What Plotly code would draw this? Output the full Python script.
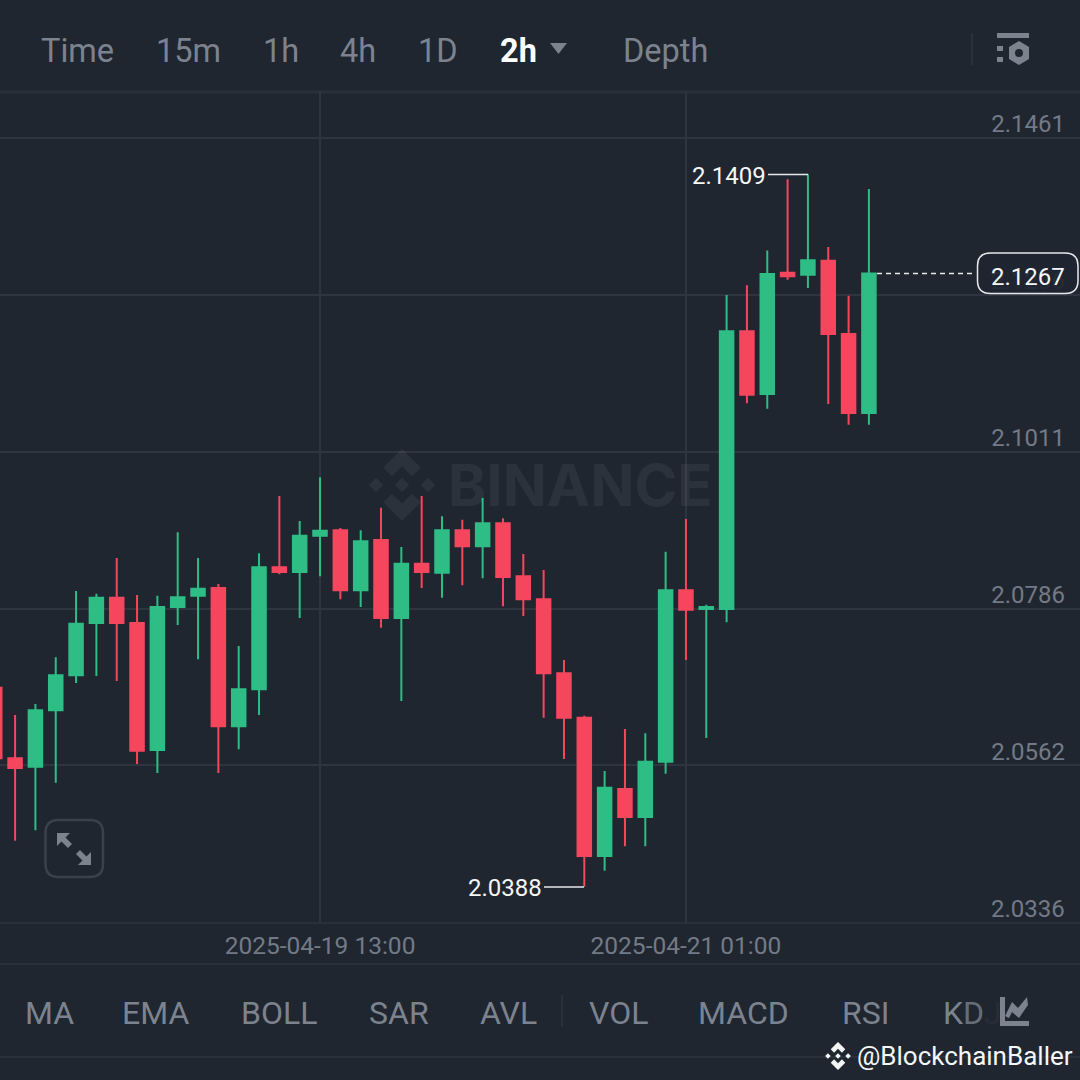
import pandas as pd
import plotly.graph_objects as go

# candle data (2h candles)
times = pd.date_range("2025-04-18 05:00", periods=44, freq="2h")
opens = [2.0673, 2.0572, 2.0560, 2.0641, 2.0691, 2.0766, 2.0802, 2.0766, 2.0584, 2.0789, 2.0805,
         2.0816, 2.0618, 2.0671, 2.0846, 2.0839, 2.0891, 2.0899, 2.0813, 2.0885, 2.0773, 2.0851,
         2.0838, 2.0899, 2.0876, 2.0909, 2.0833, 2.0800, 2.0694, 2.0630, 2.0432, 2.0528, 2.0488,
         2.0567, 2.0813, 2.0786, 2.0786, 2.1184, 2.1094, 2.1268, 2.1265, 2.1285, 2.1180, 2.1067]
highs = [2.0680, 2.0634, 2.0650, 2.0717, 2.0812, 2.0808, 2.0859, 2.0806, 2.0805, 2.0896, 2.0859,
         2.0822, 2.0733, 2.0866, 2.0948, 2.0912, 2.0975, 2.0902, 2.0899, 2.0931, 2.0875, 2.0948,
         2.0919, 2.0914, 2.0945, 2.0916, 2.0865, 2.0842, 2.0713, 2.0633, 2.0554, 2.0614, 2.0608,
         2.0868, 2.0915, 2.0792, 2.1236, 2.1250, 2.1300, 2.1402, 2.1409, 2.1305, 2.1235, 2.1388]
lows = [2.0560, 2.0454, 2.0469, 2.0537, 2.0680, 2.0690, 2.0683, 2.0564, 2.0551, 2.0763, 2.0714,
        2.0551, 2.0585, 2.0634, 2.0836, 2.0773, 2.0833, 2.0800, 2.0789, 2.0759, 2.0654, 2.0816,
        2.0802, 2.0820, 2.0830, 2.0790, 2.0776, 2.0630, 2.0571, 2.0388, 2.0411, 2.0446, 2.0446,
        2.0550, 2.0713, 2.0601, 2.0767, 2.1081, 2.1073, 2.1258, 2.1246, 2.1080, 2.1050, 2.1050]
closes = [2.0572, 2.0558, 2.0641, 2.0691, 2.0765, 2.0802, 2.0766, 2.0583, 2.0789, 2.0803, 2.0815,
          2.0618, 2.0671, 2.0846, 2.0839, 2.0891, 2.0898, 2.0813, 2.0883, 2.0773, 2.0851, 2.0839,
          2.0899, 2.0876, 2.0909, 2.0832, 2.0800, 2.0694, 2.0630, 2.0432, 2.0530, 2.0488, 2.0567,
          2.0813, 2.0785, 2.0789, 2.1184, 2.1093, 2.1266, 2.1263, 2.1286, 2.1180, 2.1067, 2.1267]

price_ticks = [2.1461, 2.1236, 2.1011, 2.0786, 2.0562, 2.0336]
price_labels = ["2.1461", "2.1236", "2.1011", "2.0786", "2.0562", "2.0336"]
time_ticks = ["2025-04-19 13:00", "2025-04-21 01:00"]
last_price = 2.1267

top_tabs = ["Time", "15m", "1h", "4h", "1D", "2h", "Depth"]
top_x = [78, 188, 281, 358, 438, 518, 665]
bottom_tabs = ["MA", "EMA", "BOLL", "SAR", "AVL", "VOL", "MACD", "RSI"]
bottom_x = [49, 156, 279, 399, 508, 618, 743, 865]

BG = "#1f2630"
GRID = "#2e3440"
MUTED = "#7c838f"
AXIS_TEXT = "#737a85"
GREEN = "#2ebd85"
RED = "#f6465d"
FONT = "Roboto"


def px(x):
    return x / 1080


def py(y):
    return 1 - y / 1080


def poly(points):
    return "M " + " L ".join(f"{px(x):.5f},{py(y):.5f}" for x, y in points) + " Z"


def round_rect(x0, y0, x1, y1, r):
    return (f"M {px(x0 + r):.5f},{py(y0):.5f} L {px(x1 - r):.5f},{py(y0):.5f} "
            f"Q {px(x1):.5f},{py(y0):.5f} {px(x1):.5f},{py(y0 + r):.5f} "
            f"L {px(x1):.5f},{py(y1 - r):.5f} Q {px(x1):.5f},{py(y1):.5f} {px(x1 - r):.5f},{py(y1):.5f} "
            f"L {px(x0 + r):.5f},{py(y1):.5f} Q {px(x0):.5f},{py(y1):.5f} {px(x0):.5f},{py(y1 - r):.5f} "
            f"L {px(x0):.5f},{py(y0 + r):.5f} Q {px(x0):.5f},{py(y0):.5f} {px(x0 + r):.5f},{py(y0):.5f} Z")


def shape_path(path, fill, line=None, width=0, layer="above"):
    return dict(type="path", xref="paper", yref="paper", path=path, fillcolor=fill, layer=layer,
                line=dict(color=line or fill, width=width))


def hline(y, color=GRID, width=1.5, x0=0, x1=1080):
    return dict(type="line", xref="paper", yref="paper", x0=px(x0), x1=px(x1), y0=py(y), y1=py(y),
                layer="below", line=dict(color=color, width=width))


def vline(x, y0, y1, color=GRID, width=1.5):
    return dict(type="line", xref="paper", yref="paper", x0=px(x), x1=px(x), y0=py(y0), y1=py(y1),
                layer="above", line=dict(color=color, width=width))


def binance_logo(cx, cy, s, fill):
    # five pieces of the diamond logo
    out = []
    for dx in (-0.72, 0, 0.72):
        pts = [(cx + dx * s, cy - 0.2 * s), (cx + (dx + 0.2) * s, cy), (cx + dx * s, cy + 0.2 * s), (cx + (dx - 0.2) * s, cy)]
        out.append(shape_path(poly(pts), fill))
    for sign in (-1, 1):
        pts = [(cx - 0.52 * s, cy + sign * 0.48 * s), (cx, cy + sign * s), (cx + 0.52 * s, cy + sign * 0.48 * s),
               (cx + 0.28 * s, cy + sign * 0.24 * s), (cx, cy + sign * 0.52 * s), (cx - 0.28 * s, cy + sign * 0.24 * s)]
        out.append(shape_path(poly(pts), fill))
    return out


fig = go.Figure(go.Candlestick(
    x=times, open=opens, high=highs, low=lows, close=closes,
    increasing=dict(line=dict(color=GREEN, width=2), fillcolor=GREEN),
    decreasing=dict(line=dict(color=RED, width=2), fillcolor=RED),
    whiskerwidth=0,
    hoverinfo="skip",
))

shapes = [hline(92, "#2a303b", 3), hline(923), hline(964), hline(1057)]

# last price line and badge
shapes.append(dict(type="line", xref="paper", yref="y", x0=px(877), x1=px(975), y0=last_price, y1=last_price,
                   line=dict(color="#e6e8ea", width=1.5, dash="5px,4px")))
shapes.append(shape_path(round_rect(977.5, 253, 1078, 293.5, 13), "rgba(31,38,48,0.93)", "#e6e8ea", 1.5))

# max / min connectors
shapes.append(dict(type="line", xref="paper", yref="paper", x0=px(768), x1=px(808), y0=py(174.5), y1=py(174.5),
                   line=dict(color="#e6e8ea", width=1.5)))
shapes.append(dict(type="line", xref="paper", yref="paper", x0=px(544), x1=px(584), y0=py(887), y1=py(887),
                   line=dict(color="#e6e8ea", width=1.5)))

# expand button
shapes.append(shape_path(round_rect(45.5, 820, 103, 877, 13), "rgba(0,0,0,0)", "#3a414c", 2.5))
shapes.append(shape_path(poly([(57, 833), (70, 833), (65.5, 837.5), (72, 844), (68, 848), (61.5, 841.5), (57, 846)]), "#7c838f"))
shapes.append(shape_path(poly([(91, 865), (78, 865), (82.5, 860.5), (76, 854), (80, 850), (86.5, 856.5), (91, 852)]), "#7c838f"))

# top right icon
shapes.append(vline(972, 33, 65, "#2e3440", 1.5))
shapes.append(shape_path(poly([(997, 33), (1029, 33), (1029, 38), (997, 38)]), MUTED))
shapes.append(shape_path(poly([(997, 46), (1003, 46), (1003, 51), (997, 51)]), MUTED))
shapes.append(shape_path(poly([(997, 57), (1003, 57), (1003, 62), (997, 62)]), MUTED))
shapes.append(shape_path(poly([(1019, 41), (1029, 47), (1029, 59), (1019, 65), (1009, 59), (1009, 47)]), MUTED))
shapes.append(dict(type="circle", xref="paper", yref="paper", x0=px(1015), x1=px(1023), y0=py(49), y1=py(57),
                   fillcolor=BG, line=dict(width=0)))
# dropdown triangle
shapes.append(shape_path(poly([(550, 43), (567, 43), (558.5, 54)]), MUTED))

# bottom divider and chart icon
shapes.append(vline(562, 995, 1027, "#2e3440", 1.5))
shapes.append(shape_path(poly([(1000, 997), (1005, 997), (1005, 1021), (1029, 1021), (1029, 1026), (1000, 1026)]), MUTED))
shapes.append(shape_path(poly([(1005, 1016), (1012, 1002), (1018, 1008), (1027, 997), (1028, 1005), (1019, 1018), (1012, 1012), (1009, 1018)]), MUTED))

# watermark logos
shapes += binance_logo(402, 485, 36, "rgba(255,255,255,0.06)")
shapes += binance_logo(838, 1056, 14, "#f2f3f4")

annotations = []


def label(text, x, y, size, color, anchor="center", bold=False, family=FONT):
    annotations.append(dict(text=f"<b>{text}</b>" if bold else text, xref="paper", yref="paper",
                            x=px(x), y=py(y), xanchor=anchor, yanchor="middle", showarrow=False,
                            font=dict(family=family, size=size, color=color)))


for name, x in zip(top_tabs, top_x):
    if name == "2h":
        label(name, x, 51, 32.5, "#ffffff", bold=True)
    else:
        label(name, x, 51, 32.5, MUTED)

for name, x in zip(bottom_tabs, bottom_x):
    label(name, x, 1013, 32, MUTED)
label('K<span style="color:#666d78">D</span><span style="color:#272d38">J</span>', 941, 1013, 32, MUTED, anchor="left")

label("BINANCE", 580, 485, 58, "rgba(255,255,255,0.06)", bold=True, family="Inter")
label("2.1409", 768, 176, 24, "#f5f6f7", anchor="right")
label("2.0388", 544, 888, 24, "#f5f6f7", anchor="right")
label("2.1267", 1028, 277, 24, "#f5f6f7")
label("@BlockchainBaller", 855, 1056, 26, "#f5f6f7", anchor="left")

# the lowest tick label gets dropped by plotly at the axis edge, so it goes on as an annotation
annotations.append(dict(text=price_labels[-1], xref="paper", yref="y", x=px(1067), y=price_ticks[-1],
                        xanchor="right", yanchor="middle", yshift=14, showarrow=False,
                        font=dict(family=FONT, size=24, color=AXIS_TEXT)))

fig.update_layout(
    width=1080,
    height=1080,
    margin=dict(l=0, r=0, t=0, b=0),
    paper_bgcolor=BG,
    plot_bgcolor=BG,
    showlegend=False,
    boxgap=0.05,
    shapes=shapes,
    annotations=annotations,
    xaxis=dict(
        range=["2025-04-18 05:31", "2025-04-22 15:46"],
        rangeslider=dict(visible=False),
        tickmode="array",
        tickvals=time_ticks,
        ticktext=time_ticks,
        ticks="",
        ticklabelstandoff=5,
        showgrid=True,
        gridcolor=GRID,
        gridwidth=1.5,
        zeroline=False,
        showline=False,
        tickfont=dict(family=FONT, size=24.5, color=AXIS_TEXT),
    ),
    yaxis=dict(
        domain=[py(923), py(92)],
        range=[2.0336, 2.1527],
        side="right",
        tickmode="array",
        tickvals=price_ticks[:-1],
        ticktext=price_labels[:-1],
        ticks="",
        ticklabelposition="inside",
        ticklabelstandoff=12,
        ticklabelshift=-14,
        showgrid=True,
        gridcolor=GRID,
        gridwidth=1.5,
        zeroline=False,
        showline=False,
        tickfont=dict(family=FONT, size=24, color=AXIS_TEXT),
    ),
)

fig.write_html("out.html", config=dict(displayModeBar=False), post_script="document.body.style.margin='0'")
